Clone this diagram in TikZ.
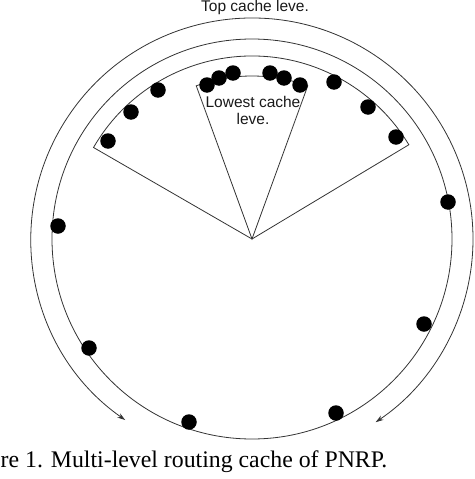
\documentclass[tikz,border=0pt]{standalone}
\usepackage{fontspec}
\setmainfont{Liberation Serif}
\newfontfamily\arialf{Liberation Sans}
\usetikzlibrary{arrows.meta,calc}
\begin{document}
\begin{tikzpicture}[x=1pt,y=1pt,
  ln/.style={line width=0.8pt, draw=black!80},
  dot/.style={circle, fill=black, minimum size=15.5pt, inner sep=0pt},
  lbl/.style={font=\arialf\fontsize{15.5}{17}\selectfont, text=black!90, align=center, inner sep=0pt}]
\useasboundingbox (0,0) rectangle (474,-479);
\coordinate (C) at (252,-239);
% outer arc with arrows
\draw[ln, {Stealth[length=8pt,width=5pt]}-{Stealth[length=8pt,width=5pt]}]
  ($(C)+(235:221)$) arc[start angle=235, end angle=-56, radius=221];
% circle
\draw[ln] (C) circle[radius=200];
% wide sector
\draw[ln] (C) -- ($(C)+(150:183)$) arc[start angle=150, end angle=31, radius=183] -- cycle;
% narrow sector
\draw[ln] (C) -- ($(C)+(110:163)$) arc[start angle=110, end angle=70, radius=163] -- cycle;
% dots on wide sector
\node[dot] (d1) at (108,-141) {};
\node[dot] (d2) at (131,-112) {};
\node[dot] (d3) at (158,-90) {};
\node[dot] (d10) at (334,-82) {};
\node[dot] (d11) at (368,-107) {};
\node[dot] (d12) at (396,-137) {};
% dots on narrow sector
\node[dot] (d4) at (207,-85) {};
\node[dot] (d5) at (219,-78) {};
\node[dot] (d6) at (233,-73) {};
\node[dot] (d7) at (270,-73) {};
\node[dot] (d8) at (284,-78) {};
\node[dot] (d9) at (300,-85) {};
% dots on circle
\node[dot] (d13) at (448,-202) {};
\node[dot] (d14) at (58,-226) {};
\node[dot] (d15) at (424,-324) {};
\node[dot] (d16) at (89,-348) {};
\node[dot] (d17) at (189,-422) {};
\node[dot] (d18) at (336,-413) {};
% labels
\node[lbl, anchor=base] (top) at (255,-11) {Top cache leve.};
\node[lbl] (low) at (253,-110) {Lowest cache\\leve.};
\node[font=\fontsize{23.8}{28}\selectfont, anchor=base west, inner sep=0pt] (cap) at (0.5,-467) {re 1. Multi-level routing cache of PNRP.};
\end{tikzpicture}
\end{document}
